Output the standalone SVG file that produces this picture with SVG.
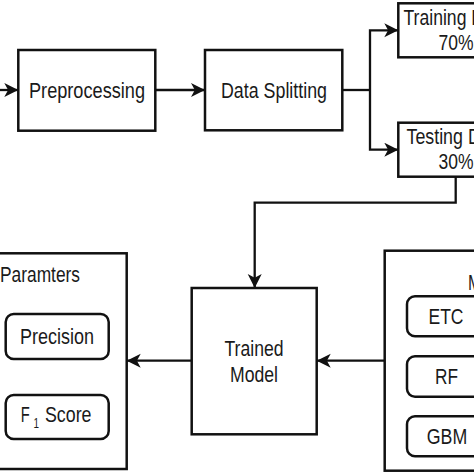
<svg xmlns="http://www.w3.org/2000/svg" width="474" height="474" viewBox="0 0 474 474">
  <defs>
    <marker id="arrow" markerUnits="userSpaceOnUse" markerWidth="15" markerHeight="15" refX="14" refY="7" orient="auto">
      <path d="M0,0 L14,7 L0,14 L3.8,7 Z" fill="#111"/>
    </marker>
    <style>
      .box { fill: #fff; stroke: #111; stroke-width: 2.5; }
      .rbox { fill: #fff; stroke: #111; stroke-width: 2.5; }
      .conn { fill: none; stroke: #111; stroke-width: 2.3; marker-end: url(#arrow); }
      .line { fill: none; stroke: #111; stroke-width: 2.3; }
      text { font-family: "Liberation Sans Narrow", "Liberation Sans", Arial, sans-serif; font-size: 22px; fill: #1a1a1a; }
      .c { text-anchor: middle; }
    </style>
  </defs>
  <rect width="474" height="474" fill="#fff"/>

  <g id="connectors">
    <path class="conn" d="M0,90 H18.3"/>
    <path class="conn" d="M155.3,90 H205"/>
    <path class="line" d="M342.3,90 H370"/>
    <path class="conn" d="M370,90 V30.3 H398.3"/>
    <path class="conn" d="M370,90 V149.7 H398.3"/>
    <path class="conn" d="M455.7,176.7 V202.7 H254.7 V288"/>
    <path class="conn" d="M384.7,360.7 H316.7"/>
    <path class="conn" d="M191.7,360.7 H126.7"/>
  </g>

  <g id="preprocessing">
    <rect class="box" x="18.3" y="50" width="137" height="80.7"/>
    <text class="c" x="87" y="98" textLength="116" lengthAdjust="spacingAndGlyphs">Preprocessing</text>
  </g>

  <g id="data-splitting">
    <rect class="box" x="205" y="50" width="137.3" height="80.3"/>
    <text class="c" x="274" y="98" textLength="106" lengthAdjust="spacingAndGlyphs">Data Splitting</text>
  </g>

  <g id="training-data">
    <rect class="box" x="398.3" y="3.3" width="116" height="54"/>
    <text class="c" x="456" y="25" textLength="105" lengthAdjust="spacingAndGlyphs">Training Data</text>
    <text class="c" x="456" y="50" textLength="35" lengthAdjust="spacingAndGlyphs">70%</text>
  </g>

  <g id="testing-data">
    <rect class="box" x="398.3" y="122.7" width="116" height="54"/>
    <text class="c" x="456" y="144" textLength="99" lengthAdjust="spacingAndGlyphs">Testing Data</text>
    <text class="c" x="456" y="169" textLength="35" lengthAdjust="spacingAndGlyphs">30%</text>
  </g>

  <g id="trained-model">
    <rect class="box" x="191.7" y="288" width="125" height="146.3"/>
    <text class="c" x="254" y="356" textLength="59" lengthAdjust="spacingAndGlyphs">Trained</text>
    <text class="c" x="254" y="382" textLength="48" lengthAdjust="spacingAndGlyphs">Model</text>
  </g>

  <g id="parameters">
    <rect class="box" x="-20" y="253.3" width="146.7" height="215.7"/>
    <text x="0" y="282" textLength="80" lengthAdjust="spacingAndGlyphs">Paramters</text>
    <g id="precision">
      <rect class="rbox" x="5.7" y="314" width="103" height="45" rx="8" ry="8"/>
      <text class="c" x="57" y="344" textLength="74" lengthAdjust="spacingAndGlyphs">Precision</text>
    </g>
    <g id="f1-score">
      <rect class="rbox" x="5.7" y="395" width="103" height="44" rx="8" ry="8"/>
      <text><tspan x="20.7" y="422" textLength="9" lengthAdjust="spacingAndGlyphs">F</tspan><tspan x="33.5" y="428" font-size="15px" textLength="5.5" lengthAdjust="spacingAndGlyphs">1</tspan><tspan x="45" y="422" textLength="46.5" lengthAdjust="spacingAndGlyphs">Score</tspan></text>
    </g>
  </g>

  <g id="models">
    <rect class="box" x="384.7" y="250.7" width="130" height="220"/>
    <text x="468" y="290" textLength="52" lengthAdjust="spacingAndGlyphs">Models</text>
    <g id="etc">
      <rect class="rbox" x="407" y="296.3" width="78" height="40" rx="8" ry="8"/>
      <text class="c" x="446" y="324.3" textLength="35" lengthAdjust="spacingAndGlyphs">ETC</text>
    </g>
    <g id="rf">
      <rect class="rbox" x="407" y="356.3" width="78" height="40.4" rx="8" ry="8"/>
      <text class="c" x="446.5" y="384.3" textLength="23" lengthAdjust="spacingAndGlyphs">RF</text>
    </g>
    <g id="gbm">
      <rect class="rbox" x="407" y="416.3" width="78" height="40" rx="8" ry="8"/>
      <text class="c" x="447" y="444.3" textLength="40.5" lengthAdjust="spacingAndGlyphs">GBM</text>
    </g>
  </g>
</svg>
